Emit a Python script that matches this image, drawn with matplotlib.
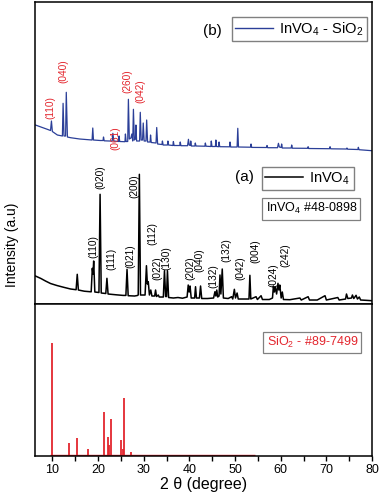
import matplotlib
matplotlib.use('Agg')
import matplotlib.pyplot as plt
from matplotlib.lines import Line2D

plt.rcParams['font.family'] = ['Liberation Sans', 'DejaVu Sans']
plt.rcParams['mathtext.fontset'] = 'custom'
plt.rcParams['mathtext.rm'] = 'Liberation Sans'
plt.rcParams['mathtext.it'] = 'Liberation Sans:italic'
plt.rcParams['mathtext.bf'] = 'Liberation Sans:bold'

# ---- (a) InVO4 pattern (2theta, intensity a.u.) ----
black_tt = [6.3, 7.5, 8.5, 9.6, 11, 12.5, 14, 15.2, 15.45, 15.7, 17, 18.5, 18.75, 18.9, 19.05, 19.3,
            20.2, 20.45, 20.7, 21.7, 21.95, 22.2, 24, 25.5, 26.1, 26.35, 26.6, 28.0, 28.6, 28.8, 29.05,
            29.3, 30.3, 30.6, 30.8, 31.0, 31.25, 31.55, 31.8, 32.4, 32.6, 32.8, 33.2, 33.4, 34.3, 34.55,
            34.8, 35.0, 35.2, 35.45, 36.5, 37.5, 38.5, 39.5, 39.75, 39.95, 40.15, 40.4, 41.15, 41.35,
            41.55, 42.2, 42.45, 42.7, 44, 45.3, 45.6, 45.8, 46.0, 46.2, 46.5, 46.7, 46.9, 47.2, 47.45,
            48.5, 49.25, 49.5, 49.85, 50.1, 50.45, 50.7, 52, 53.05, 53.25, 53.45, 54.6, 54.9, 55.7, 56,
            57.5, 58.2, 58.4, 58.6, 58.8, 59.1, 59.4, 59.6, 59.8, 60.1, 60.35, 60.6, 62, 64.2, 64.5, 66,
            66.3, 68, 69.7, 70, 72.5, 72.8, 74.2, 74.4, 74.7, 75.5, 75.7, 76.0, 76.5, 76.8, 77.2, 77.5,
            79, 80]
black_int = [28, 25.5, 23, 20.5, 18.5, 16.7, 15, 14.3, 29.7, 14, 12.8, 12.2, 35.7, 30, 43, 12,
             11.5, 109.7, 11, 10.5, 25.7, 10, 9.2, 8.6, 8.6, 34.7, 8.3, 8, 8.5, 9, 129.7,
             9, 9, 38.3, 20, 22.3, 9, 14, 8, 8, 14, 7.5, 9, 7, 7, 33.3,
             7.5, 7.5, 33.3, 6.5, 6, 6.5, 5.8, 7, 19, 12, 18, 6, 6, 17.3,
             6, 6, 18, 5.5, 5.5, 6, 12.3, 8, 14, 7, 8, 29, 10, 35, 6,
             5.5, 7.3, 5, 14.7, 6, 11, 5, 5, 5, 28.7, 5, 7.3, 4.5, 8.3, 4.5,
             4.5, 6, 18, 12, 17, 10, 20.7, 14, 19, 6, 12, 4.5, 4.3, 6, 4, 7.3,
             4, 4, 8.3, 4, 6.5, 4, 5, 10, 5.5, 6, 9, 5.5, 8.7, 5, 7, 4,
             3.6, 3.3]

# ---- (b) InVO4 - SiO2 pattern ----
blue_tt = [6.3, 7.5, 8.9, 9.6, 9.8, 10.0, 11.1, 12.2, 12.35, 12.55, 12.9, 13.05, 13.3, 14, 16, 18.7,
           18.85, 19.0, 20.5, 21.1, 21.2, 21.35, 22.5, 23.1, 23.25, 23.45, 24.5, 24.6, 24.75, 25.9,
           26.0, 26.15, 26.5, 26.65, 26.85, 27.2, 27.4, 27.6, 27.75, 27.95, 28.2, 28.3, 28.45, 29.1,
           29.25, 29.45, 29.75, 29.9, 30.1, 30.5, 30.65, 30.85, 31.4, 31.5, 31.65, 32.7, 32.85, 33.05,
           34.0, 34.1, 34.25, 35.2, 35.3, 35.45, 36.4, 36.5, 36.65, 37.9, 38.0, 38.15, 39.6, 39.8,
           39.95, 40.2, 40.3, 40.45, 41.2, 41.3, 41.45, 43.4, 43.5, 43.65, 44.7, 44.8, 44.95, 45.7,
           45.8, 45.95, 46.4, 46.5, 46.65, 48.8, 48.9, 49.05, 50.45, 50.6, 50.75, 53.4, 53.5, 53.65,
           56.9, 57.0, 57.15, 59.3, 59.5, 59.7, 60.1, 60.2, 60.35, 62.3, 62.4, 62.55, 65.9, 66.0,
           66.15, 70.7, 70.8, 70.95, 74.4, 74.5, 74.65, 76.9, 77.0, 77.15, 80]
blue_int = [29, 27, 24.7, 23.5, 33, 22.5, 19, 18, 50.7, 18, 18, 61.7, 17, 16.3, 15, 14,
            26, 14, 13.5, 13.5, 17, 13.2, 13, 13, 20.7, 13, 12.5, 18, 12.5, 12.3,
            20, 12.5, 12.5, 54.7, 15, 16, 20, 13, 44.7, 14, 15, 29, 13, 13,
            41.7, 14, 14, 31, 13, 13, 34, 12, 12, 19, 11.5, 11, 26.5, 10,
            9.5, 13, 9, 9, 13, 9, 8.5, 12.5, 8.5, 8.5, 12, 8.3, 8.3, 14.7,
            9, 8.5, 13, 8, 8, 11, 8, 7.8, 11, 7.8, 7.5, 13, 7.5, 7.5,
            14, 7.5, 7.3, 12, 7.3, 7.2, 12, 7, 7, 25.7, 7, 6.8, 10, 6.6,
            6.5, 8.5, 6.3, 6.3, 10.7, 7, 6.5, 10, 6, 6, 9, 5.8, 5.7, 7.3,
            5.5, 5.3, 7.3, 5.2, 5, 6, 4.8, 4.5, 6.7, 4.3, 3.3]
blue_offset = 150

# ---- SiO2 reference #89-7499 ----
sio2_tt = [9.9, 13.6, 15.4, 17.9, 21.3, 22.1, 22.4, 22.8, 25.0, 25.4, 25.6, 27.2]
sio2_int = [113, 13, 17.8, 6.8, 43.8, 18.5, 10.5, 36.5, 15.2, 7, 57.2, 3.2]

# ---- hkl labels ----
black_hkl = ['(110)', '(020)', '(111)', '(021)', '(200)', '(112)', '(022)', '(130)',
             '(202)', '(040)', '(132)', '(132)', '(042)', '(004)', '(024)', '(242)']
black_hkl_tt = [19.0, 20.6, 23.0, 27.0, 27.9, 32.0, 32.9, 35.0, 40.2, 42.3, 45.3, 48.2,
                51.1, 54.4, 58.5, 61.0]
black_hkl_y = [46, 115, 34, 36, 106, 59, 24, 34, 24, 32, 16, 42, 24, 41, 17, 37]

red_hkl = ['(110)', '(040)', '(061)', '(260)', '(042)']
red_hkl_tt = [9.5, 12.4, 23.9, 26.4, 29.2]
red_hkl_y = [185, 221, 154, 211, 201]

blue_c = '#2b3f98'
red_c = '#e3262e'

fig = plt.figure(figsize=(3.8, 5.03), dpi=100)
ax1 = fig.add_axes([0.0921, 0.3956, 0.887, 0.6004])
ax2 = fig.add_axes([0.0921, 0.0934, 0.887, 0.3022])

xlim = (6.2, 80)

# upper panel
ax1.plot(black_tt, black_int, color='black', lw=1.1)
ax1.plot(blue_tt, [v + blue_offset for v in blue_int], color=blue_c, lw=0.9)
for lab, x, y in zip(black_hkl, black_hkl_tt, black_hkl_y):
    ax1.text(x, y, lab, rotation=90, ha='center', va='bottom', fontsize=7.3, color='black')
for lab, x, y in zip(red_hkl, red_hkl_tt, red_hkl_y):
    ax1.text(x, y, lab, rotation=90, ha='center', va='bottom', fontsize=7.3, color=red_c)
ax1.set_xlim(xlim)
ax1.set_ylim(0, 302)
ax1.set_xticks([])
ax1.set_yticks([])

leg_b = ax1.legend([Line2D([], [], color=blue_c, lw=1)], ['InVO$_4$ - SiO$_2$'],
                   loc='upper right', bbox_to_anchor=(0.985, 0.952), fontsize=10.5,
                   fancybox=False, edgecolor='gray', framealpha=1, handlelength=2.6,
                   handletextpad=0.4, borderpad=0.25, borderaxespad=0)
ax1.add_artist(leg_b)
ax1.text(0.525, 0.905, '(b)', transform=ax1.transAxes, fontsize=11, ha='center', va='center')

ax1.legend([Line2D([], [], color='black', lw=1.1)], ['InVO$_4$'],
           loc='upper right', bbox_to_anchor=(0.945, 0.455), fontsize=10.5,
           fancybox=False, edgecolor='gray', framealpha=1, handlelength=2.6,
           handletextpad=0.4, borderpad=0.25, borderaxespad=0)
ax1.text(0.62, 0.42, '(a)', transform=ax1.transAxes, fontsize=11, ha='center', va='center')
ax1.text(0.82, 0.315, 'InVO$_4$ #48-0898', transform=ax1.transAxes, fontsize=9,
         ha='center', va='center',
         bbox=dict(boxstyle='square,pad=0.25', fc='white', ec='gray', lw=0.9))

# lower panel
ax2.vlines(sio2_tt, 0, sio2_int, color=red_c, lw=1.3)
ax2.hlines(0.6, 9.5, 54.4, color=red_c, lw=1.0)
ax2.set_xlim(xlim)
ax2.set_ylim(-0.5, 151.5)
ax2.set_yticks([])
ax2.set_xticks([10, 20, 30, 40, 50, 60, 70, 80])
ax2.set_xticks([15, 25, 35, 45, 55, 65, 75], minor=True)
ax2.tick_params(axis='x', which='both', direction='out', length=3.5, width=1.0,
                labelsize=9, pad=2)
ax2.text(0.823, 0.747, 'SiO$_2$ - #89-7499', transform=ax2.transAxes, fontsize=9,
         color=red_c, ha='center', va='center',
         bbox=dict(boxstyle='square,pad=0.25', fc='white', ec='gray', lw=0.9))
ax2.set_xlabel('2 θ (degree)', fontsize=11.5, labelpad=1)

for ax in (ax1, ax2):
    for sp in ax.spines.values():
        sp.set_linewidth(1.1)

fig.text(0.032, 1 - 245 / 503, 'Intensity (a.u)', rotation=90, fontsize=10,
         ha='center', va='center')

fig.savefig('out.png', dpi=100)
